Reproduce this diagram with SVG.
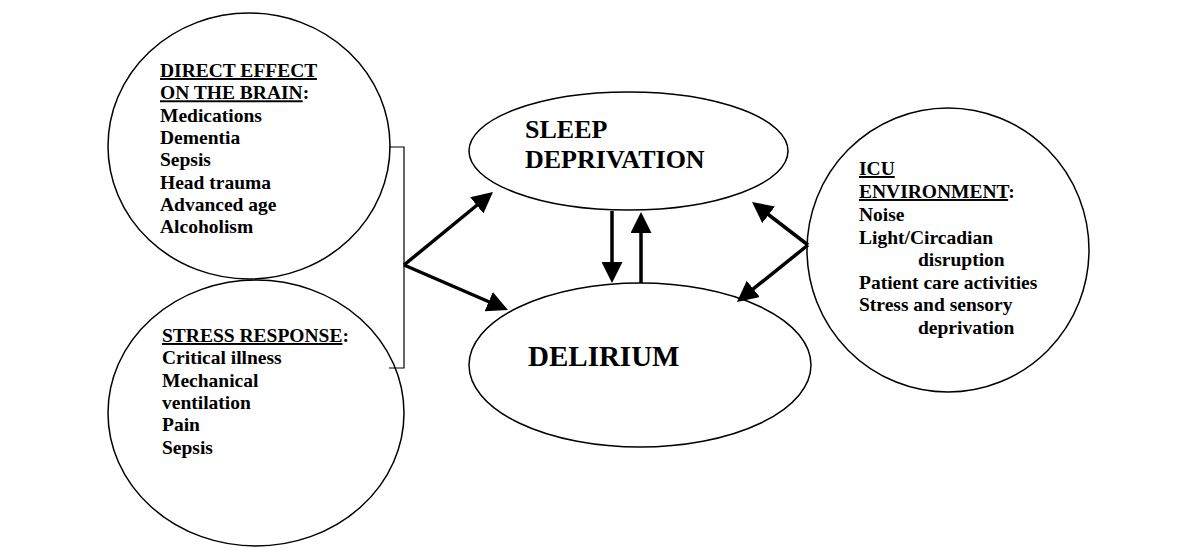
<svg xmlns="http://www.w3.org/2000/svg" width="1200" height="558" viewBox="0 0 1200 558">
<style>
.node{fill:#fff;stroke:#000;stroke-width:1.5}
text{font-family:'Liberation Serif','Times New Roman','DejaVu Serif',serif;font-weight:bold;fill:#000}
.s{font-size:19.5px}
.u{text-decoration:underline}
.arr{stroke:#000;stroke-width:3.5;fill:none;marker-end:url(#ah)}
.br{stroke:#000;stroke-width:1.2;fill:none}
</style>
<defs>
<marker id="ah" viewBox="0 0 10 10" refX="1" refY="5" markerWidth="6" markerHeight="6" orient="auto" markerUnits="strokeWidth">
<path d="M0,0 L10,5 L0,10 Z" fill="#000"/>
</marker>
</defs>
<rect width="1200" height="558" fill="#fff"/>
<g id="direct-effect">
<ellipse class="node" cx="249" cy="146" rx="141" ry="133"/>
<text class="s">
<tspan x="160" y="77" class="u">DIRECT EFFECT</tspan>
<tspan x="160" y="99.3"><tspan class="u">ON THE BRAIN</tspan>:</tspan>
<tspan x="160" y="121.6">Medications</tspan>
<tspan x="160" y="144">Dementia</tspan>
<tspan x="160" y="166.3">Sepsis</tspan>
<tspan x="160" y="188.6">Head trauma</tspan>
<tspan x="160" y="210.9">Advanced age</tspan>
<tspan x="160" y="233.2">Alcoholism</tspan>
</text>
</g>
<g id="stress-response">
<ellipse class="node" cx="256" cy="413" rx="148" ry="133"/>
<text class="s">
<tspan x="162" y="342"><tspan class="u">STRESS RESPONSE</tspan>:</tspan>
<tspan x="162" y="364.3">Critical illness</tspan>
<tspan x="162" y="386.6">Mechanical</tspan>
<tspan x="162" y="408.9">ventilation</tspan>
<tspan x="162" y="431.2">Pain</tspan>
<tspan x="162" y="453.5">Sepsis</tspan>
</text>
</g>
<g id="sleep-deprivation">
<ellipse class="node" cx="628.5" cy="151" rx="159.5" ry="59"/>
<text font-size="26">
<tspan x="525" y="138">SLEEP</tspan>
<tspan x="525" y="168">DEPRIVATION</tspan>
</text>
</g>
<g id="delirium">
<ellipse class="node" cx="640" cy="365" rx="171" ry="82"/>
<text font-size="29" x="528" y="366">DELIRIUM</text>
</g>
<g id="icu-environment">
<ellipse class="node" cx="948" cy="250" rx="141" ry="142"/>
<text class="s">
<tspan x="859" y="175" class="u">ICU</tspan>
<tspan x="859" y="198"><tspan class="u">ENVIRONMENT</tspan>:</tspan>
<tspan x="859" y="221">Noise</tspan>
<tspan x="859" y="243.5">Light/Circadian</tspan>
<tspan x="918" y="266">disruption</tspan>
<tspan x="859" y="288.5">Patient care activities</tspan>
<tspan x="859" y="311">Stress and sensory</tspan>
<tspan x="918" y="333.5">deprivation</tspan>
</text>
</g>
<g id="connectors">
<path class="br" d="M389,147 H404 V368 H389"/>
<line class="arr" x1="404" y1="265" x2="478.4" y2="204"/>
<line class="arr" x1="404" y1="265" x2="490.6" y2="302.5"/>
<line class="arr" x1="612" y1="211" x2="612" y2="264.1"/>
<line class="arr" x1="641" y1="283" x2="641" y2="230.9"/>
<line class="arr" x1="808" y1="245" x2="767" y2="213.5"/>
<line class="arr" x1="808" y1="245" x2="751.7" y2="290.2"/>
</g>
</svg>
